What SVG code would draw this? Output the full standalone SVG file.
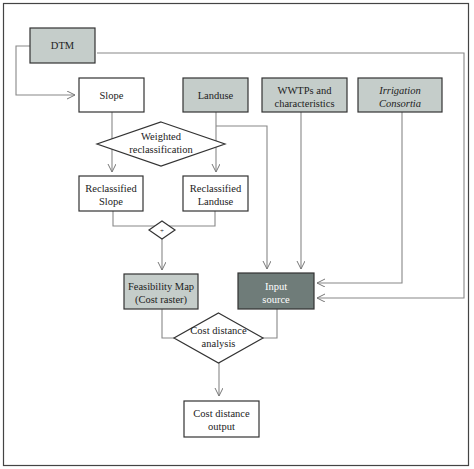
<svg xmlns="http://www.w3.org/2000/svg" width="474" height="469" viewBox="0 0 474 469">
<defs>
<marker id="ah" markerWidth="10" markerHeight="10" refX="8" refY="4" orient="auto" markerUnits="userSpaceOnUse">
<path d="M0,0 L8,4 L0,8" fill="none" stroke="#777" stroke-width="1"/>
</marker>
<style>
.box{stroke:#333;stroke-width:1.2;fill:#fff}
.g{fill:#c5cdca}
.d{fill:#6f7c79}
.t{font-family:"Liberation Serif","Times New Roman",serif;font-size:10.5px;fill:#222;text-anchor:middle}
.w{fill:#fff}
.c{fill:none;stroke:#888;stroke-width:1.1}
.a{marker-end:url(#ah)}
</style>
</defs>
<rect x="0" y="0" width="474" height="469" fill="#fff"/>
<rect x="3.5" y="3.5" width="465" height="462" fill="none" stroke="#444" stroke-width="1.2"/>
<g id="connectors">
<polyline class="c a" points="30,46 16,46 16,95 75,95"/>
<polyline class="c a" points="97,53 464,53 464,298 317,298"/>
<line class="c a" x1="112" y1="112" x2="112" y2="172"/>
<line class="c a" x1="216" y1="112" x2="216" y2="172"/>
<polyline class="c a" points="216,126 267,126 267,269"/>
<line class="c a" x1="301" y1="112" x2="301" y2="269"/>
<polyline class="c a" points="402,112 402,283 317,283"/>
<polyline class="c" points="113,211 113,226 155,226"/>
<polyline class="c" points="215,211 215,226 169,226"/>
<line class="c a" x1="162" y1="239" x2="162" y2="270"/>
<polyline class="c" points="162,309 162,338 174,338"/>
<polyline class="c" points="277,309 277,338 263,338"/>
<line class="c a" x1="219" y1="363" x2="219" y2="396"/>
</g>
<g id="dtm"><rect class="box g" x="30" y="28" width="65" height="35"/><text class="t" x="62.5" y="49">DTM</text></g>
<g id="slope"><rect class="box" x="79" y="78" width="65" height="34"/><text class="t" x="111.5" y="98.5">Slope</text></g>
<g id="landuse"><rect class="box g" x="183" y="78" width="65" height="34"/><text class="t" x="215.5" y="98.5">Landuse</text></g>
<g id="wwtps"><rect class="box g" x="262" y="78" width="85" height="34"/><text class="t" x="304.5" y="94">WWTPs and</text><text class="t" x="304.5" y="106.5">characteristics</text></g>
<g id="irrigation"><rect class="box g" x="358" y="78" width="84" height="34"/><text class="t" x="400" y="94" font-style="italic">Irrigation</text><text class="t" x="400" y="106.5" font-style="italic">Consortia</text></g>
<g id="weighted"><polygon class="box" points="161,122 225,144 161,166 97,144"/><text class="t" x="161" y="140">Weighted</text><text class="t" x="161" y="152.5">reclassification</text></g>
<g id="recl-slope"><rect class="box" x="79" y="176" width="64" height="35"/><text class="t" x="111" y="192">Reclassified</text><text class="t" x="111" y="204.5">Slope</text></g>
<g id="recl-landuse"><rect class="box" x="183" y="176" width="65" height="35"/><text class="t" x="215.5" y="192">Reclassified</text><text class="t" x="215.5" y="204.5">Landuse</text></g>
<g id="plus"><polygon class="box" points="162,221 175,230 162,239 149,230"/><text class="t" x="162" y="232.5" style="font-size:7px">+</text></g>
<g id="feasibility"><rect class="box g" x="124" y="274" width="74" height="35"/><text class="t" x="161" y="290">Feasibility Map</text><text class="t" x="161" y="302.5">(Cost raster)</text></g>
<g id="input"><rect class="box d" x="238" y="273" width="76" height="36"/><text class="t w" x="276" y="290">Input</text><text class="t w" x="276" y="302.5">source</text></g>
<g id="costanalysis"><polygon class="box" points="218.5,313 263,338 218.5,363 174,338"/><text class="t" x="218.5" y="334">Cost distance</text><text class="t" x="218.5" y="346.5">analysis</text></g>
<g id="output"><rect class="box" x="184" y="401" width="75" height="36"/><text class="t" x="221.5" y="417">Cost distance</text><text class="t" x="221.5" y="429.5">output</text></g>
</svg>
